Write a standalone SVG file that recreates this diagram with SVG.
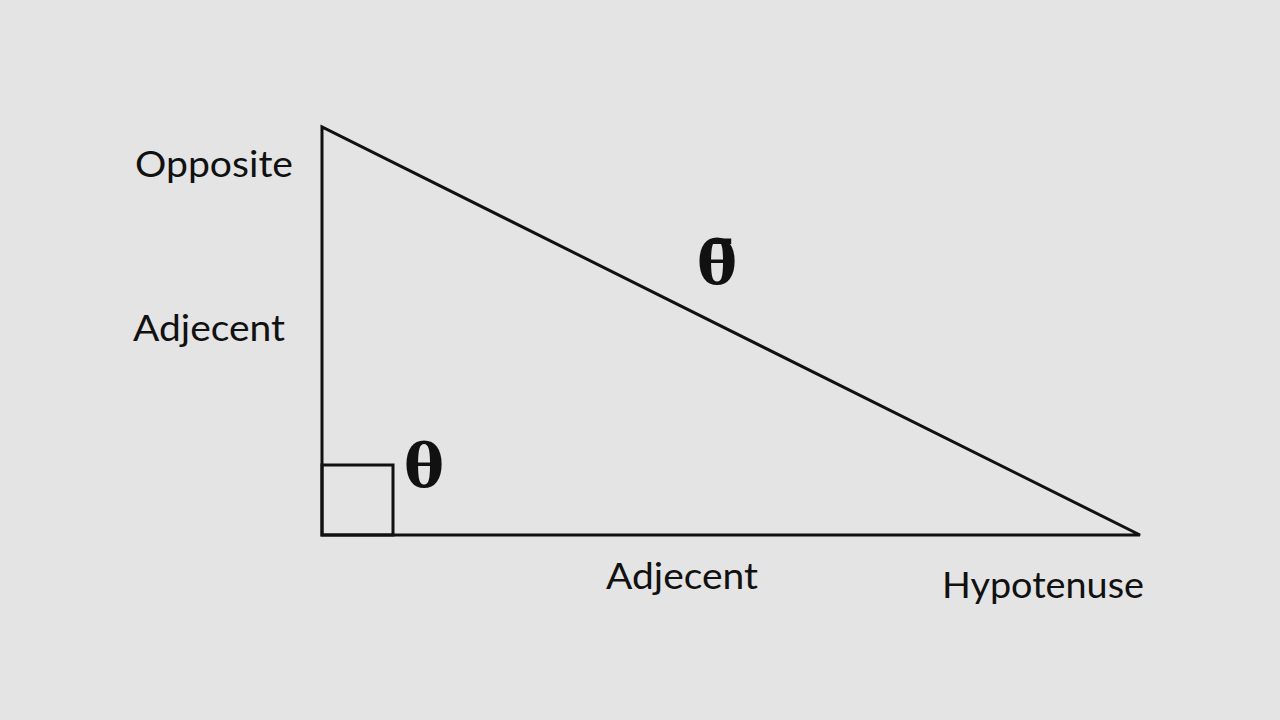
<svg xmlns="http://www.w3.org/2000/svg" width="1280" height="720" viewBox="0 0 1280 720">
<style>
.lbl{font-family:Lato,"Noto Sans","Liberation Sans",sans-serif;font-size:37px;fill:#111}
.th{font-family:"DejaVu Serif","Liberation Serif",serif;font-weight:bold;font-size:60px;fill:#111}
.ln{fill:none;stroke:#111;stroke-width:3;stroke-linejoin:miter}
</style>
<rect width="1280" height="720" fill="#e4e4e4"/>
<g id="triangle">
<polygon class="ln" points="322,127 322,535 1140,535"/>
<rect class="ln" x="322" y="465" width="71" height="70"/>
</g>
<g id="connectors"></g>
<g id="label-opposite"><text class="lbl" x="135" y="177" textLength="158" lengthAdjust="spacingAndGlyphs">Opposite</text></g>
<g id="label-adjecent-left"><text class="lbl" x="133" y="341" textLength="152" lengthAdjust="spacingAndGlyphs">Adjecent</text></g>
<g id="label-adjecent-bottom"><text class="lbl" x="606" y="589" textLength="152" lengthAdjust="spacingAndGlyphs">Adjecent</text></g>
<g id="label-hypotenuse"><text class="lbl" x="942" y="598" textLength="202" lengthAdjust="spacingAndGlyphs">Hypotenuse</text></g>
<g id="theta-bottom"><text class="th" x="404" y="487">θ</text></g>
<g id="theta-top"><text class="th" x="697" y="284">θ̄</text></g>
</svg>
